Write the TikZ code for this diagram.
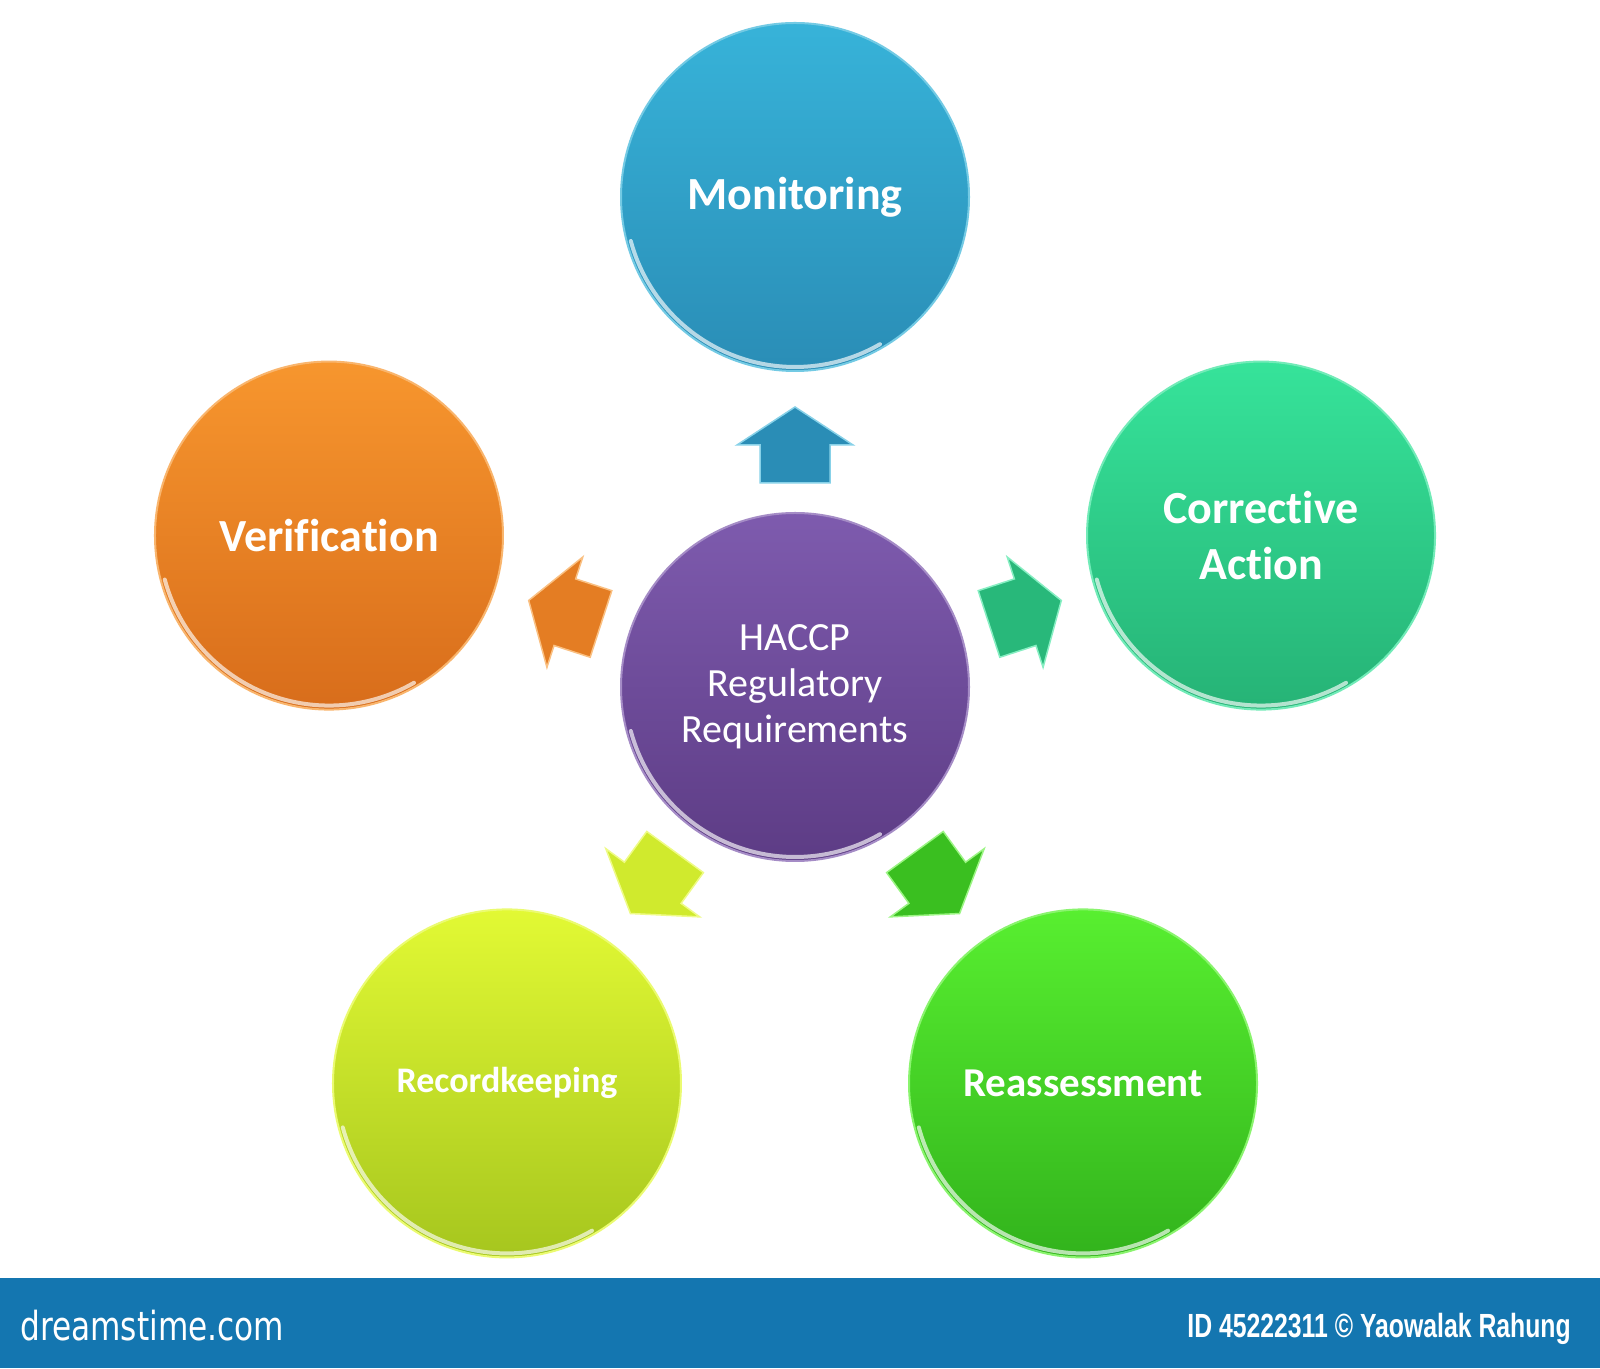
\documentclass[tikz,border=0pt]{standalone}
\usepackage{fontspec}
\setmainfont{Carlito}[Ligatures=NoCommon]
\newfontfamily\barfont{DejaVu Sans}
\newfontfamily\idfont{Liberation Sans}
\usetikzlibrary{calc}
\definecolor{bluetop}{HTML}{37B3D9}\definecolor{bluebot}{HTML}{2A8DB6}
\definecolor{orgtop}{HTML}{F7962E}\definecolor{orgbot}{HTML}{D86D1B}
\definecolor{seatop}{HTML}{36E39A}\definecolor{seabot}{HTML}{26B376}
\definecolor{purtop}{HTML}{7E5BAE}\definecolor{purbot}{HTML}{5D3C85}
\definecolor{yeltop}{HTML}{E2F934}\definecolor{yelbot}{HTML}{A6C61E}
\definecolor{grntop}{HTML}{58EF30}\definecolor{grnbot}{HTML}{32B31C}
\definecolor{barblue}{HTML}{1476B0}
\begin{document}
\begin{tikzpicture}[x=1pt,y=1pt,
  ball/.style={circle, minimum size=348pt, inner sep=0pt, text=white, align=center},
  lbl/.style={font=\bfseries\fontsize{46}{56}\selectfont},
  rim/.style={white, opacity=0.65, line width=4pt, line cap=round},
  blockarrow/.pic={\path[pic actions] (-38,-35) -- (0,-35) -- (0,-58) -- (38,0) -- (0,58) -- (0,35) -- (-38,35) -- cycle;}
]
\useasboundingbox (0,0) rectangle (1600,1368);
\fill[white] (0,0) rectangle (1600,1368);

\coordinate (c) at (795,681);
% circles
\node[ball, top color=purtop, bottom color=purbot, draw=purtop!70!white, line width=2pt,
      font=\fontsize{40}{46}\selectfont] (hub) at (c) {HACCP\\Regulatory\\Requirements};
\node[ball, lbl, top color=bluetop, bottom color=bluebot, draw=bluetop!70!white, line width=2pt] (mon) at ($(c)+(90:490)$) {Monitoring};
\node[ball, lbl, top color=seatop, bottom color=seabot, draw=seatop!70!white, line width=2pt] (cor) at ($(c)+(18:490)$) {Corrective\\Action};
\node[ball, top color=grntop, bottom color=grnbot, draw=grntop!70!white, line width=2pt,
      font=\bfseries\fontsize{41}{48}\selectfont] (rea) at ($(c)+(-54:490)$) {Reassessment};
\node[ball, top color=yeltop, bottom color=yelbot, draw=yeltop!70!white, line width=2pt,
      font=\bfseries\fontsize{36}{42}\selectfont] (rec) at ($(c)+(-126:490)$) {Recordkeeping};
\node[ball, lbl, top color=orgtop, bottom color=orgbot, draw=orgtop!70!white, line width=2pt] (ver) at ($(c)+(162:490)$) {Verification};

% glossy rims
\foreach \n in {hub,mon,cor,rea,rec,ver}{
  \draw[rim] ($(\n)+(195:170)$) arc[start angle=195, end angle=300, radius=170];
}

% block arrows
\pic[fill=bluebot, draw=bluetop!60!white, line width=1.5pt, rotate=90] at ($(c)+(90:242)$) {blockarrow};
\pic[fill=seabot!90!seatop, draw=seatop!60!white, line width=1.5pt, rotate=18] at ($(c)+(18:242)$) {blockarrow};
\pic[fill=grnbot!80!grntop, draw=grntop!60!white, line width=1.5pt, rotate=-54] at ($(c)+(-54:242)$) {blockarrow};
\pic[fill=yeltop!70!yelbot, draw=yeltop!60!white, line width=1.5pt, rotate=-126] at ($(c)+(-126:242)$) {blockarrow};
\pic[fill=orgbot!60!orgtop, draw=orgtop!60!white, line width=1.5pt, rotate=162] at ($(c)+(162:242)$) {blockarrow};

% bottom bar
\fill[barblue] (0,0) rectangle (1600,90);
\node[anchor=base west, inner sep=0pt, text=white] (site) at (20,28)
  {\scalebox{0.78}[1]{\barfont\fontsize{40}{40}\selectfont dreamstime.com}};
\node[anchor=base east, inner sep=0pt, text=white] (credit) at (1571,31)
  {\scalebox{0.74}[1]{\idfont\bfseries\fontsize{33.5}{34}\selectfont ID 45222311 \textcopyright{} Yaowalak Rahung}};
\end{tikzpicture}
\end{document}
